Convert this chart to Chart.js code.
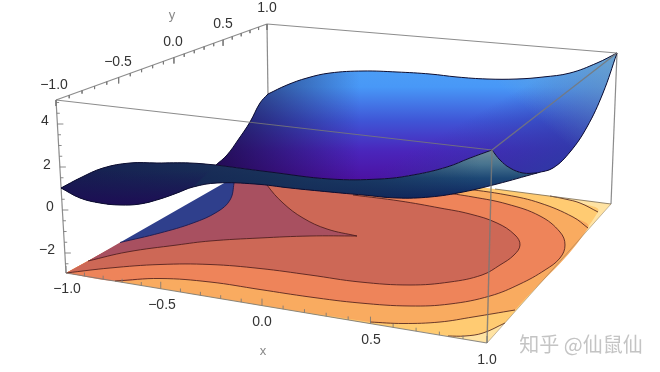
<!DOCTYPE html>
<html>
<head>
<meta charset="utf-8">
<style>
  html, body { margin: 0; padding: 0; background: #fff; }
  #plot { display: block; }
</style>
<script src="https://cdn.jsdelivr.net/npm/chart.js@4/dist/chart.umd.min.js"></script>
</head>
<body>
<canvas id="plot" width="660" height="372"></canvas>
<script>
// ==========================
// DATA (as x/y on the picture plane)
// ==========================
const boxCorners = {
  topLeft: [56, 100], topBack: [267, 24], topRight: [617, 53], topFront: [492, 150],
  botLeft: [66, 273], botBack: [268, 158], botRight: [611, 204], botFront: [487, 343],
};
const floorBackInset = [271, 161];

const xTickLabels = ["−1.0", "−0.5", "0.0", "0.5", "1.0"];
const xTickLabelPos = [[67, 289], [162, 305], [262, 322], [371, 340], [487, 360]];
const yTickLabels = ["−1.0", "−0.5", "0.0", "0.5", "1.0"];
const yTickLabelPos = [[54, 85], [118, 62], [173, 42], [223, 24], [267, 8]];
const zTickLabels = ["4", "2", "0", "−2"];
const zTickLabelPos = [[45, 121], [47, 165], [50, 207], [47, 250]];

// surface outline
const sheetTop = [[617, 53], [597, 63], [570, 73], [543, 77], [517, 79], [487, 79], [457, 77], [430, 74], [397, 72], [363, 71], [330, 73], [307, 78], [287, 85], [268, 94]];
const sheetLeft = [[268, 94], [260, 103], [250, 122], [238, 140], [227, 155], [216, 165]];
const foldLine = [[216, 165], [270, 172], [330, 179], [380, 179], [413, 175], [447, 167], [470, 158], [492, 150]];
const cuspRightLow = [[492, 150], [500, 160], [510, 168], [523, 173], [537, 173]];
const cuspRightHigh = [[537, 173], [553, 168], [570, 152], [587, 127], [603, 93], [617, 53]];
const sheetBottom = [[537, 173], [497, 184], [463, 192], [430, 197], [397, 198], [363, 195], [330, 192], [290, 188], [255, 184], [217, 183], [193, 187], [177, 193], [160, 199], [140, 204], [120, 205], [100, 203], [80, 198], [61, 188]];
const wingTop = [[61, 188], [80, 178], [103, 168], [130, 163], [157, 163], [190, 163], [216, 165]];

// contour lines on the floor
const contourA = [[66, 273], [110, 268], [160, 264.5], [210, 264.5], [260, 268.5], [310, 275], [360, 282], [410, 285], [450, 282], [482, 275], [500, 265], [514, 255], [520, 245], [515, 235], [497, 223], [470, 214], [440, 208], [400, 201], [353, 195]];
const contourB = [[115, 281], [160, 278.5], [210, 282], [260, 289.5], [310, 297], [360, 303], [410, 306], [450, 304], [490, 296], [520, 284], [545, 270], [560, 258], [565, 245], [560, 232], [540, 216], [507, 204], [473, 197], [440, 192]];
const contourC = [[370, 322], [403, 323.5], [440, 322], [473, 317], [515, 310]];
const contourCBack = [[588, 228], [573, 217], [540, 203], [507, 195], [460, 188]];
const contourD = [[448, 336], [465, 336], [483, 333], [505, 323]];
const contourDBack = [[598, 212], [580, 203], [565, 199], [550, 196]];

// cusp region and shadow on the floor
const cuspLow = [[88, 261], [127, 252], [177, 245], [210, 241], [260, 238], [310, 236], [357, 236]];
const cuspHigh = [[357, 236], [327, 229], [303, 218], [283, 203], [267, 185], [262, 175]];
const shadowEdge = [[120, 242.5], [160, 233], [193, 223], [217, 212], [230, 200], [234, 183], [234, 175]];

// ==========================
// HELPERS
// ==========================
const ctx = document.getElementById("plot").getContext("2d");

function toPoints(list) {
  return list.map((p) => ({ x: p[0], y: p[1] }));
}

function gradient(x0, y0, x1, y1, stops) {
  const g = ctx.createLinearGradient(x0, y0, x1, y1);
  stops.forEach((s) => g.addColorStop(s[0], s[1]));
  return g;
}

function shape(list, color) {
  return {
    data: toPoints(list), showLine: true, fill: "shape", backgroundColor: color,
    borderWidth: 0, pointRadius: 0, tension: 0.4,
  };
}

function line(list, color, width, tension) {
  return {
    data: toPoints(list), showLine: true, fill: false, borderColor: color,
    borderWidth: width, pointRadius: 0, tension: tension,
  };
}

// joins outline pieces, repeating each joint so the corner stays sharp
function joined(...parts) {
  const out = [];
  parts.forEach((part) => {
    part.forEach((p) => out.push(p));
    out.push(part[part.length - 1]);
  });
  return out;
}

function reversed(list) {
  return list.slice().reverse();
}

// perspective spacing along a box edge
function along(a, b, t, w) {
  const f = t / (t + w * (1 - t));
  return [a[0] + (b[0] - a[0]) * f, a[1] + (b[1] - a[1]) * f];
}

function tickMarks(a, b, w, count, major, dx, dy) {
  const pts = [];
  for (let i = 0; i <= count; i++) {
    const p = along(a, b, i / count, w);
    const len = i % major === 0 ? 1 : 0.5;
    pts.push({ x: p[0], y: p[1] }, { x: p[0] + dx * len, y: p[1] + dy * len }, { x: NaN, y: NaN });
  }
  return pts;
}

const c = boxCorners;
const boxGray = "rgba(120,120,120,0.85)";
const contourColor = "rgba(70,25,25,0.8)";

// ==========================
// DATASETS (back to front, reversed at the end for Chart.js)
// ==========================
const zTickPts = [];
for (let z = -2.5; z <= 5; z += 0.5) {
  const y = 124 + (4 - z) * 21.5;
  const x = 56 + ((y - 100) / 173) * 10;
  const len = z % 2 === 0 ? 6 : 3;
  zTickPts.push({ x: x, y: y }, { x: x + len, y: y }, { x: NaN, y: NaN });
}

const datasets = [
  // floor bands
  shape(joined([c.botLeft, c.botFront], [c.botRight], [floorBackInset]), "#ffe3a3"),
  shape(joined([c.botLeft], contourD, contourDBack, [floorBackInset]), "#ffcb72"),
  shape(joined([c.botLeft], contourC, contourCBack, [floorBackInset]), "#f9ab60"),
  shape(joined([c.botLeft], contourB, [floorBackInset]), "#ee845a"),
  shape(joined(contourA, [floorBackInset]), "#cd6856"),
  // cusp and shadow
  shape(joined(cuspLow, cuspHigh, reversed(shadowEdge)), "#a85060"),
  shape(joined(shadowEdge, [c.botBack]), "#2f3f8c"),
  line(contourA, contourColor, 1, 0.4),
  line(contourB, contourColor, 1, 0.4),
  line(contourC, contourColor, 1, 0.4),
  line(contourCBack, contourColor, 1, 0.4),
  line(contourD, contourColor, 1, 0.4),
  line(contourDBack, contourColor, 1, 0.4),
  line(cuspLow, contourColor, 1, 0.4),
  line(cuspHigh, contourColor, 1, 0.4),
  line(shadowEdge, "rgba(25,25,80,0.9)", 1, 0.4),
  // box parts behind the surface
  line([c.topLeft, c.topBack], boxGray, 1.2, 0),
  line([c.topBack, c.topRight], boxGray, 1.2, 0),
  line([c.topBack, [268, 96]], boxGray, 1.2, 0),
  line([c.topRight, c.botRight], boxGray, 1.2, 0),
  line([c.topLeft, c.botLeft], boxGray, 1.2, 0),
  line([c.botLeft, c.botFront], boxGray, 1.2, 0),
  line([c.botFront, c.botRight], "rgba(140,120,90,0.5)", 1, 0),
  line([c.botRight, [495, 189]], "rgba(120,105,80,0.8)", 1, 0),
  // ticks
  { data: tickMarks(c.botLeft, c.botFront, 1.148, 20, 5, 0, -7), showLine: true, borderColor: boxGray, borderWidth: 1, pointRadius: 0, fill: false },
  { data: tickMarks(c.topLeft, c.topBack, 0.789, 20, 5, 0, 6), showLine: true, borderColor: boxGray, borderWidth: 1, pointRadius: 0, fill: false },
  { data: zTickPts, showLine: true, borderColor: boxGray, borderWidth: 1, pointRadius: 0, fill: false },
];

// lower sheet
const lowerOutline = joined(foldLine, cuspRightLow, sheetBottom, wingTop);
datasets.push(shape(lowerOutline, gradient(0, 150, 0, 197, [[0, "#6f8c9a"], [0.3, "#48748f"], [0.6, "#1d4875"], [1, "#0f2560"]])));
datasets.push(shape(lowerOutline, gradient(60, 0, 480, 0, [[0, "rgba(22,30,80,1)"], [0.5, "rgba(22,45,85,0.9)"], [0.75, "rgba(22,45,85,0.55)"], [1, "rgba(22,45,85,0)"]])));
const wingOutline = joined(sheetBottom.slice(10), wingTop);
datasets.push(shape(wingOutline, gradient(0, 170, 0, 206, [[0, "rgba(28,15,85,0)"], [1, "rgba(30,12,85,0.97)"]])));

// upper sheet
const upperOutline = joined(sheetTop, sheetLeft, foldLine, cuspRightLow, cuspRightHigh);
datasets.push(shape(upperOutline, gradient(0, 60, 0, 182, [[0, "#4ea0f5"], [0.22, "#4898f7"], [0.5, "#3f55d6"], [0.75, "#4a25bb"], [1, "#4c10a0"]])));
datasets.push(shape(upperOutline, gradient(216, 0, 360, 0, [[0, "rgba(20,5,50,0.72)"], [1, "rgba(20,5,50,0)"]])));
datasets.push(shape(upperOutline, gradient(500, 100, 540, 170, [[0, "rgba(44,60,165,0)"], [1, "rgba(44,60,165,0.8)"]])));
datasets.push(shape(upperOutline, gradient(550, 130, 620, 50, [[0, "rgba(110,165,205,0)"], [1, "rgba(110,165,205,0.95)"]])));

// surface outline lines
const edgeColor = "#0d0d30";
[sheetTop, sheetLeft, foldLine, cuspRightLow, cuspRightHigh, sheetBottom, wingTop].forEach((part) => {
  datasets.push(line(part, edgeColor, 1, 0.4));
});

// front box edges seen over the surface
datasets.push(line([c.topLeft, c.topFront], boxGray, 1.2, 0));
datasets.push(line([c.topFront, c.topRight], boxGray, 1.4, 0));
datasets.push(line([c.topFront, c.botFront], boxGray, 1.4, 0));

// Chart.js paints the first dataset last
datasets.reverse();

// ==========================
// TEXT
// ==========================
const textLayer = {
  id: "textLayer",
  afterDraw(chart) {
    const g = chart.ctx;
    const sx = chart.scales.x;
    const sy = chart.scales.y;
    const put = (str, p, font, color) => {
      g.font = font;
      g.fillStyle = color;
      g.textAlign = "center";
      g.textBaseline = "middle";
      g.fillText(str, sx.getPixelForValue(p[0]), sy.getPixelForValue(p[1]));
    };
    const tickFont = '14px "Liberation Sans"';
    xTickLabels.forEach((s, i) => put(s, xTickLabelPos[i], tickFont, "#333"));
    yTickLabels.forEach((s, i) => put(s, yTickLabelPos[i], tickFont, "#333"));
    zTickLabels.forEach((s, i) => put(s, zTickLabelPos[i], tickFont, "#333"));
    put("x", [263, 351], '13px "Liberation Sans"', "#888");
    put("y", [172, 15], '13px "Liberation Sans"', "#888");
    put("知乎 @仙鼠仙", [581, 344], '20px "Noto Sans CJK SC"', "#c4c4c4");
  },
};

// ==========================
// CHART
// ==========================
new Chart(ctx, {
  type: "scatter",
  data: { datasets: datasets },
  plugins: [textLayer],
  options: {
    responsive: false,
    animation: false,
    events: [],
    layout: { padding: 0 },
    plugins: { legend: { display: false }, tooltip: { enabled: false } },
    scales: {
      x: { type: "linear", min: 0, max: 660, display: false },
      y: { type: "linear", min: 0, max: 372, reverse: true, display: false },
    },
  },
});
</script>
</body>
</html>
